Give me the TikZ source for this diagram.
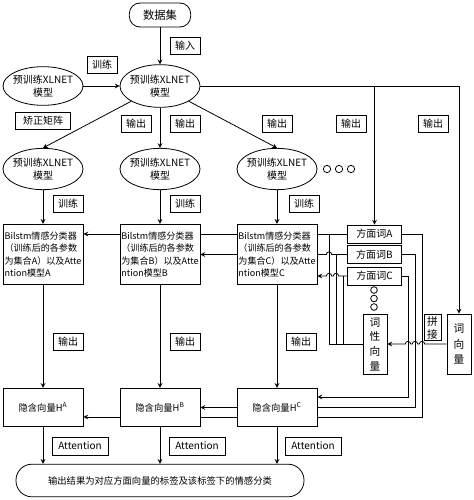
\documentclass[tikz,border=0pt]{standalone}
\usepackage{fontspec}
\setmainfont{Noto Sans CJK SC}
\usepackage{tikz}
\usetikzlibrary{shapes.geometric, arrows, positioning, calc}

\begin{document}
\begin{tikzpicture}[
    x=0.75pt, y=-0.75pt,
    line width=0.6pt,
    model/.style={draw, ellipse, minimum width=60pt, minimum height=31pt, inner xsep=-3pt, inner ysep=0pt, align=center, font=\fontsize{7.5}{10}\selectfont},
    tag/.style={draw, rectangle, inner sep=0pt, minimum width=22.5pt, minimum height=13pt, font=\fontsize{7.5}{9}\selectfont},
    cls/.style={draw, rectangle, minimum width=60pt, minimum height=45.5pt, inner sep=0.5pt, align=left, font=\fontsize{6.8}{9.2}\selectfont},
    hid/.style={draw, rectangle, minimum width=60pt, minimum height=29pt, font=\fontsize{7}{9}\selectfont},
    aspect/.style={draw, rectangle, minimum width=41pt, minimum height=13.5pt, inner sep=0pt, font=\fontsize{7.5}{9}\selectfont},
    vbox/.style={draw, rectangle, minimum width=18pt, minimum height=45pt, inner sep=0pt, align=center, font=\fontsize{8}{11}\selectfont},
    dot/.style={draw, circle, minimum size=5.5pt, inner sep=0pt},
    arrow/.style={->, >=stealth}
]
\useasboundingbox (0,0) rectangle (474,500);

% Input and XLNET models
\node (data) [draw, rounded corners=8pt, minimum width=46pt, minimum height=18pt, font=\fontsize{8.5}{10}\selectfont] at (160,15) {数据集};
\node (xl0) [model, minimum height=32pt] at (160,86) {预训练XLNET\\模型};
\node (xlp) [model, minimum height=29pt] at (43,86) {预训练XLNET\\模型};
\node (xlA) [model] at (43,169) {预训练XLNET\\模型};
\node (xlB) [model] at (160,169) {预训练XLNET\\模型};
\node (xlC) [model] at (277,169) {预训练XLNET\\模型};
\node (d1) [dot] at (327,169) {};
\node (d2) [dot] at (339,169) {};
\node (d3) [dot] at (351,169) {};

% Bilstm classifiers
\node (bA) [cls] at (43,254.5) {Bilstm情感分类器\\（训练后的各参数\\为集合A）以及Atte\\ntion模型A};
\node (bB) [cls] at (160,254.5) {Bilstm情感分类器\\（训练后的各参数\\为集合B）以及Atte\\ntion模型B};
\node (bC) [cls] at (277,254.5) {Bilstm情感分类器\\（训练后的各参数\\为集合C）以及Atte\\ntion模型C};

% Hidden vectors and result
\node (hA) [hid] at (43,407.5) {隐含向量H\textsuperscript{A}};
\node (hB) [hid] at (160,407.5) {隐含向量H\textsuperscript{B}};
\node (hC) [hid] at (277,407.5) {隐含向量H\textsuperscript{C}};
\node (out) [draw, rounded corners=12pt, minimum width=216pt, minimum height=24.5pt, font=\fontsize{7}{9}\selectfont] at (160,480.5) {输出结果为对应方面向量的标签及该标签下的情感分类};

% Aspect words and vectors
\node (fA) [aspect] at (374.5,234) {方面词A};
\node (fB) [aspect] at (374.5,254.5) {方面词B};
\node (fC) [aspect] at (374.5,276) {方面词C};
\node (e1) [dot, minimum size=5pt] at (374,290) {};
\node (e2) [dot, minimum size=5pt] at (374,298.5) {};
\node (e3) [dot, minimum size=5pt] at (374,307) {};
\node (pos) [vbox] at (375,344) {词\\性\\向\\量};
\node (wv) [vbox, font=\fontsize{8}{11.6}\selectfont] at (459,344) {词\\向\\量};
\node (pj) [vbox, minimum width=12.75pt, minimum height=20pt, font=\fontsize{8}{9.75}\selectfont] at (432.5,327.5) {拼\\接};

% Labels
\node (tIn) [tag] at (185,46) {输入};
\node (tTr) [tag] at (102,65) {训练};
\node (tFix) [tag, minimum width=41pt] at (43,121) {矫正矩阵};
\node (o1) [tag] at (136,124) {输出};
\node (o2) [tag] at (185,124) {输出};
\node (o3) [tag] at (277,124) {输出};
\node (o4) [tag] at (351,124) {输出};
\node (o5) [tag] at (433,124) {输出};
\node (trA) [tag] at (68,204) {训练};
\node (trB) [tag] at (185,204) {训练};
\node (trC) [tag] at (304,204) {训练};
\node (oA) [tag] at (68,342) {输出};
\node (oB) [tag] at (185,342) {输出};
\node (oC) [tag] at (301,342) {输出};
\node (atA) [tag, minimum width=42pt, minimum height=13.5pt] at (80,446) {Attention};
\node (atB) [tag, minimum width=42pt, minimum height=13.5pt] at (197,446) {Attention};
\node (atC) [tag, minimum width=42pt, minimum height=13.5pt] at (313,446) {Attention};

% Junction columns
\coordinate (jA) at (329,0);
\coordinate (jB) at (336,0);
\coordinate (jC) at (343,0);
\coordinate (kC) at (408,0);
\coordinate (kB) at (415,0);
\coordinate (kA) at (422,0);
\coordinate (rC) at ($(hC.east)+(0,-10.5)$);
\coordinate (rA) at ($(hC.east)+(0,9.5)$);

% Arrows
\draw[arrow] (data) -- (xl0);
\draw[arrow] (xlp) -- (xl0);
\draw[arrow] (xl0) -- (xlA.north);
\draw[arrow] (xl0) -- (xlB);
\draw[arrow] (xl0) -- (xlC.north);
\draw[arrow] (xl0.east) -| (wv.north);
\draw[arrow] (xl0.east -| fA.north) -- (fA.north);
\draw[arrow] (xlA) -- (bA);
\draw[arrow] (xlB) -- (bB);
\draw[arrow] (xlC) -- (bC);
\draw[arrow] (bA) -- (hA);
\draw[arrow] (bB) -- (hB);
\draw[arrow] (bC) -- (hC);
\draw[arrow] (hA) -- (hA |- out.north);
\draw[arrow] (hB) -- (out);
\draw[arrow] (hC) -- (hC |- out.north);

% aspect words to classifiers
\draw (fA.west) -- (bC.east |- fA.west);
\draw (bC.west |- fA.west) -- (bB.east |- fA.west);
\draw[arrow] (bB.west |- fA.west) -- (bA.east |- fA.west);
\draw (fB.west) -- ($(jA |- fB.west)+(2.67,0)$) arc[start angle=0, end angle=180, radius=2pt] -- (bC.east |- fB.west);
\draw[arrow] (bC.west |- fB.west) -- (bB.east |- fB.west);
\draw[arrow] (fC.west) -- ($(jB |- fC.west)+(2.67,0)$) arc[start angle=0, end angle=180, radius=2pt]
    -- ($(jA |- fC.west)+(2.67,0)$) arc[start angle=0, end angle=180, radius=2pt] -- (bC.east |- fC.west);
\draw (pos.west) -- (jA |- pos.west) -- (jA |- fA.west);
\draw (jB |- pos.west) -- (jB |- fB.west);
\draw (jC |- pos.west) -- (jC |- fC.west);

% aspect words to hidden vectors
\draw[arrow] (fC.east) -- (kC |- fC.east) -- (kC |- rC) -- (rC);
\draw (fB.east) -- (kB |- fB.east) -- (kB |- hC.east) -- (hC.east);
\draw[arrow] (hC.west) -- (hB.east);
\draw (fA.east) -- (kA |- fA.east) -- (kA |- rA) -- (rA);
\draw (hC.west |- rA) -- (hB.east |- rA);
\draw[arrow] (hB.west |- rA) -- (hA.east |- rA);

% word vector to part-of-speech vector
\draw[arrow] (wv.west) -- ($(kA |- wv.west)+(2.67,0)$) arc[start angle=0, end angle=180, radius=2pt]
    -- ($(kB |- wv.west)+(2.67,0)$) arc[start angle=0, end angle=180, radius=2pt]
    -- ($(kC |- wv.west)+(2.67,0)$) arc[start angle=0, end angle=180, radius=2pt] -- (pos.east);

\end{tikzpicture}
\end{document}
